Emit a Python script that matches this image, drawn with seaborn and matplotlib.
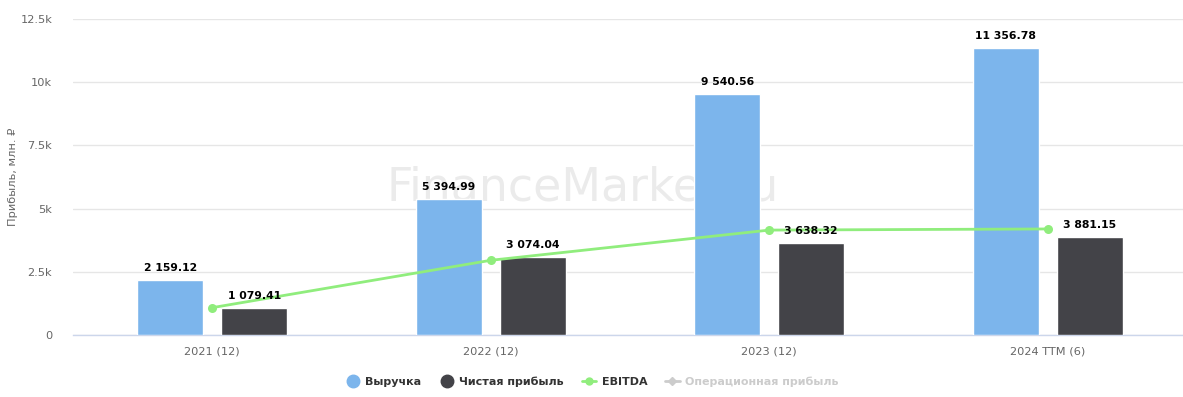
import numpy as np
import pandas as pd
import matplotlib
matplotlib.use("Agg")
import matplotlib.pyplot as plt
from matplotlib.lines import Line2D
import seaborn as sns

categories = ["2021 (12)", "2022 (12)", "2023 (12)", "2024 TTM (6)"]
revenue = [2159.12, 5394.99, 9540.56, 11356.78]
net_profit = [1079.41, 3074.04, 3638.32, 3881.15]
ebitda = [1082, 2955, 4150, 4195]
series_names = ["Выручка", "Чистая прибыль", "EBITDA", "Операционная прибыль"]
y_ticks = [0, 2500, 5000, 7500, 10000, 12500]
y_tick_labels = ["0", "2.5k", "5k", "7.5k", "10k", "12.5k"]

C_BLUE = "#7cb5ec"
C_DARK = "#434348"
C_GREEN = "#90ed7d"
C_GRAY = "#cccccc"

sns.set_theme(style="white")
plt.rcParams["font.family"] = ["DejaVu Sans"]

fig = plt.figure(figsize=(11.83, 3.97), dpi=100)
ax = fig.add_axes([73 / 1183, 1 - 335 / 397, (1187 - 73) / 1183, (335 - 19) / 397])

df = pd.DataFrame({
    "cat": categories * 2,
    "value": revenue + net_profit,
    "series": [series_names[0]] * 4 + [series_names[1]] * 4,
})

ax.text(583 / 1183, 1 - 188 / 397, "FinanceMarker.ru", fontsize=33,
        color="#ebebeb", ha="center", va="center", zorder=1,
        transform=fig.transFigure)

sns.barplot(data=df, x="cat", y="value", hue="series", order=categories,
            hue_order=series_names[:2], palette=[C_BLUE, C_DARK],
            width=0.603, gap=0.214, saturation=1, errorbar=None,
            legend=False, ax=ax, zorder=3)

for cont in ax.containers:
    labels = [f"{v:,.2f}".replace(",", " ") for v in cont.datavalues]
    ax.bar_label(cont, labels=labels, padding=5, fontsize=7.8,
                 fontweight="bold", color="#000000", zorder=6)

sns.lineplot(x=np.arange(len(categories)), y=ebitda, ax=ax, color=C_GREEN,
             linewidth=2, marker="o", markersize=6.5, markeredgewidth=0,
             zorder=5, legend=False)

ax.set_xlim(-0.5, 3.5)
ax.set_ylim(0, 12500)
ax.set_yticks(y_ticks)
ax.set_yticklabels(y_tick_labels)
ax.grid(axis="y", color="#e6e6e6", linewidth=1, zorder=0)
ax.set_axisbelow(True)
for s in ["top", "right", "left"]:
    ax.spines[s].set_visible(False)
ax.spines["bottom"].set_color("#ccd6eb")
ax.spines["bottom"].set_linewidth(1)
ax.tick_params(axis="both", length=0, labelsize=8.2, labelcolor="#666666")
ax.tick_params(axis="y", pad=15)
ax.tick_params(axis="x", pad=8)
ax.set_xlabel("")
ax.set_ylabel("Прибыль, млн. ₽", fontsize=8.2, color="#666666")
ax.yaxis.set_label_coords((18 - 73) / 1114, 0.5)

handles = [
    Line2D([], [], linestyle="none", marker="o", markersize=9, color=C_BLUE),
    Line2D([], [], linestyle="none", marker="o", markersize=9, color=C_DARK),
    Line2D([], [], color=C_GREEN, linewidth=2, marker="o", markersize=5),
    Line2D([], [], color=C_GRAY, linewidth=2, marker="D", markersize=4),
]
leg = fig.legend(handles, series_names, loc="center", ncol=4,
                 bbox_to_anchor=(592 / 1183, 1 - 382 / 397), frameon=False,
                 prop={"size": 8, "weight": "bold"}, handlelength=1.3,
                 handletextpad=0.5, columnspacing=1.6)
for i, t in enumerate(leg.get_texts()):
    t.set_color(C_GRAY if i == 3 else "#333333")

fig.savefig("out.png", dpi=100)
